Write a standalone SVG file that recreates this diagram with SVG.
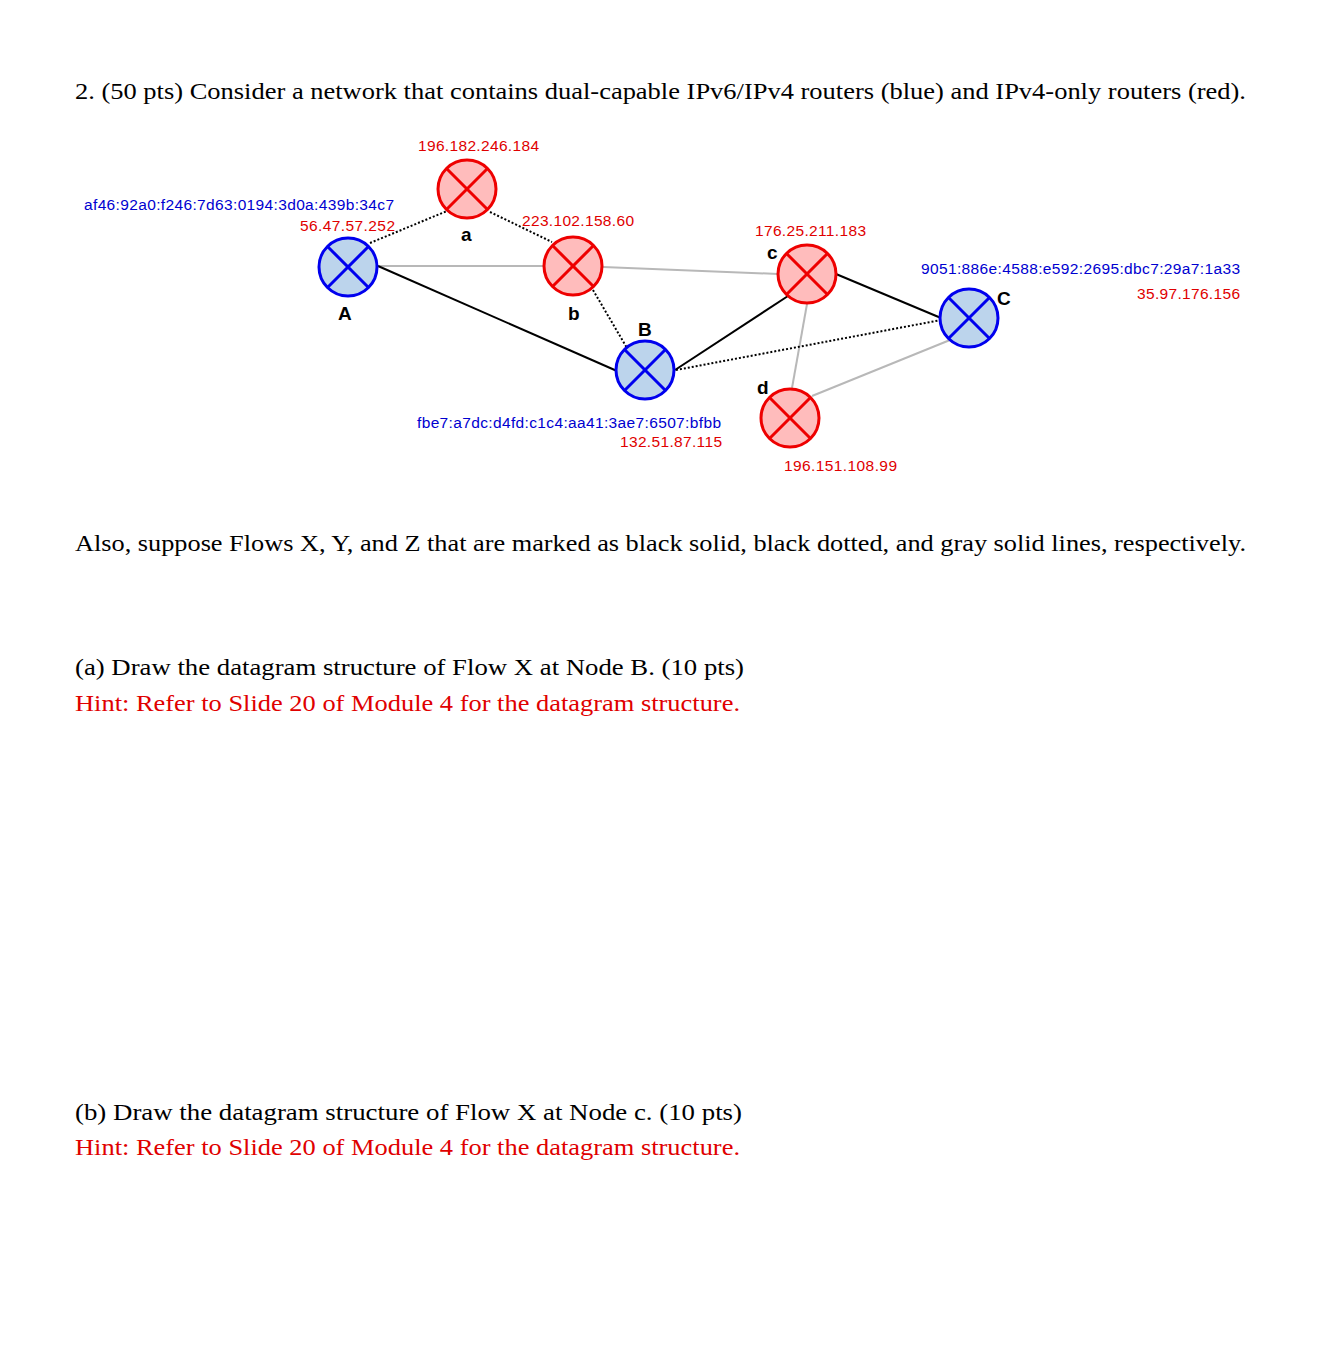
<svg xmlns="http://www.w3.org/2000/svg" width="1330" height="1350" viewBox="0 0 1330 1350">
<style>
.t{font-family:"Liberation Serif",serif;font-size:23px;fill:#000}
.h{fill:#e00000}
.s{font-family:"Liberation Sans",Arial,sans-serif;font-size:15.5px}
.ip4{fill:#e00000}
.ip6{fill:#0000d0}
.lb{font-family:"Liberation Sans",Arial,sans-serif;font-size:19px;font-weight:bold}
.blue circle{fill:#bcd4ec;stroke:#0000ee;stroke-width:3}
.blue line{stroke:#0000ee;stroke-width:3}
.red circle{fill:#ffbcbc;stroke:#ee0000;stroke-width:3}
.red line{stroke:#ee0000;stroke-width:3}
.g{stroke:#b8b8b8;stroke-width:2}
.k{stroke:#000;stroke-width:2}
.d{stroke:#000;stroke-width:2;stroke-dasharray:2 2}
</style>
<rect width="1330" height="1350" fill="#fff"/>
<text class="t" x="75" y="99" textLength="1171" lengthAdjust="spacingAndGlyphs">2. (50 pts) Consider a network that contains dual-capable IPv6/IPv4 routers (blue) and IPv4-only routers (red).</text>
<g id="connectors">
<line class="g" x1="378" y1="266" x2="544" y2="266"/>
<line class="g" x1="603" y1="267" x2="778" y2="274"/>
<line class="g" x1="807" y1="304" x2="792" y2="388"/>
<line class="g" x1="812" y1="396" x2="950" y2="340"/>
<line class="k" x1="378" y1="266" x2="617" y2="371"/>
<line class="k" x1="675" y1="370" x2="788" y2="296"/>
<line class="k" x1="836" y1="274" x2="941" y2="318"/>
<line class="d" x1="370" y1="243" x2="447" y2="211"/>
<line class="d" x1="490" y1="212" x2="552" y2="242"/>
<line class="d" x1="593" y1="290" x2="627" y2="348"/>
<line class="d" x1="676" y1="370" x2="941" y2="320"/>
</g>
<g id="nodeA" class="blue" transform="translate(348,267)"><circle r="29"/><line x1="-20" y1="-20" x2="20" y2="20"/><line x1="20" y1="-20" x2="-20" y2="20"/></g>
<g id="nodea" class="red" transform="translate(467,189)"><circle r="29"/><line x1="-20" y1="-20" x2="20" y2="20"/><line x1="20" y1="-20" x2="-20" y2="20"/></g>
<g id="nodeb" class="red" transform="translate(573,266)"><circle r="29"/><line x1="-20" y1="-20" x2="20" y2="20"/><line x1="20" y1="-20" x2="-20" y2="20"/></g>
<g id="nodeB" class="blue" transform="translate(645,370)"><circle r="29"/><line x1="-20" y1="-20" x2="20" y2="20"/><line x1="20" y1="-20" x2="-20" y2="20"/></g>
<g id="nodec" class="red" transform="translate(807,274)"><circle r="29"/><line x1="-20" y1="-20" x2="20" y2="20"/><line x1="20" y1="-20" x2="-20" y2="20"/></g>
<g id="nodeC" class="blue" transform="translate(969,318)"><circle r="29"/><line x1="-20" y1="-20" x2="20" y2="20"/><line x1="20" y1="-20" x2="-20" y2="20"/></g>
<g id="noded" class="red" transform="translate(790,418)"><circle r="29"/><line x1="-20" y1="-20" x2="20" y2="20"/><line x1="20" y1="-20" x2="-20" y2="20"/></g>
<g id="labels">
<text class="s ip4" x="418" y="151" textLength="121">196.182.246.184</text>
<text class="s ip6" x="84" y="210" textLength="310">af46:92a0:f246:7d63:0194:3d0a:439b:34c7</text>
<text class="s ip4" x="300" y="231" textLength="95">56.47.57.252</text>
<text class="s ip4" x="522" y="226" textLength="112">223.102.158.60</text>
<text class="s ip4" x="755" y="236" textLength="111">176.25.211.183</text>
<text class="s ip6" x="921" y="274" textLength="319">9051:886e:4588:e592:2695:dbc7:29a7:1a33</text>
<text class="s ip4" x="1137" y="299" textLength="103">35.97.176.156</text>
<text class="s ip6" x="417" y="428" textLength="304">fbe7:a7dc:d4fd:c1c4:aa41:3ae7:6507:bfbb</text>
<text class="s ip4" x="620" y="447" textLength="102">132.51.87.115</text>
<text class="s ip4" x="784" y="471" textLength="113">196.151.108.99</text>
<text class="lb" x="461" y="241">a</text>
<text class="lb" x="338" y="320">A</text>
<text class="lb" x="568" y="320">b</text>
<text class="lb" x="638" y="336">B</text>
<text class="lb" x="767" y="259">c</text>
<text class="lb" x="997" y="305">C</text>
<text class="lb" x="757" y="394">d</text>
</g>
<text class="t" x="75" y="551" textLength="1171" lengthAdjust="spacingAndGlyphs">Also, suppose Flows X, Y, and Z that are marked as black solid, black dotted, and gray solid lines, respectively.</text>
<text class="t" x="75" y="675" textLength="669" lengthAdjust="spacingAndGlyphs">(a) Draw the datagram structure of Flow X at Node B. (10 pts)</text>
<text class="t h" x="75" y="711" textLength="665" lengthAdjust="spacingAndGlyphs">Hint: Refer to Slide 20 of Module 4 for the datagram structure.</text>
<text class="t" x="75" y="1120" textLength="667" lengthAdjust="spacingAndGlyphs">(b) Draw the datagram structure of Flow X at Node c. (10 pts)</text>
<text class="t h" x="75" y="1155" textLength="665" lengthAdjust="spacingAndGlyphs">Hint: Refer to Slide 20 of Module 4 for the datagram structure.</text>
</svg>
